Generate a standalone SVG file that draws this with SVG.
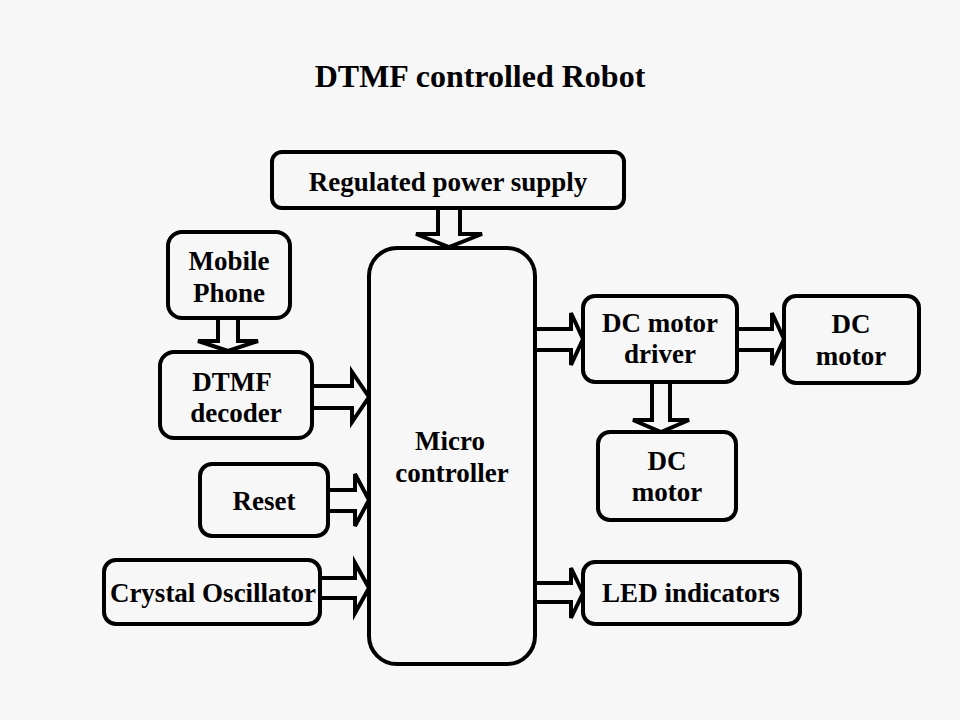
<svg xmlns="http://www.w3.org/2000/svg" width="960" height="720" viewBox="0 0 960 720">
<style>
.box{fill:#f7f7f7;stroke:#000;stroke-width:4}
.arr{fill:#f7f7f7;stroke:#000;stroke-width:4;stroke-linejoin:miter}
text{font-family:"Liberation Serif","Times New Roman",serif;font-weight:bold;font-size:27px;fill:#000;text-anchor:middle}
.title{font-size:32px}
</style>
<rect width="960" height="720" fill="#f7f7f7"/>
<text class="title" x="480" y="87">DTMF controlled Robot</text>
<g id="connectors">
<path class="arr" d="M438,208 V234 H416 L449,247 L482,234 H460 V208"/>
<path class="arr" d="M218,318 V341 H198 L228,351 L258,341 H238 V318"/>
<path class="arr" d="M312,386 H352 V372 L369,397 L352,422 V408 H312"/>
<path class="arr" d="M328,490 H355 V474 L369,500 L355,526 V511 H328"/>
<path class="arr" d="M320,578 H355 V563 L369,588 L355,613 V598 H320"/>
<path class="arr" d="M535,329 H571 V313 L583,339 L571,365 V350 H535"/>
<path class="arr" d="M737,329 H772 V313 L784,339 L772,365 V350 H737"/>
<path class="arr" d="M652,382 V420 H633 L661,432 L689,420 H670 V382"/>
<path class="arr" d="M535,583 H571 V568 L583,593 L571,618 V602 H535"/>
</g>
<g id="power"><rect class="box" x="272" y="152" width="352" height="56" rx="10"/><text x="448" y="191">Regulated power supply</text></g>
<g id="mobile"><rect class="box" x="168" y="232" width="122" height="86" rx="14"/><text x="229" y="270">Mobile</text><text x="229" y="302">Phone</text></g>
<g id="dtmf"><rect class="box" x="160" y="352" width="152" height="86" rx="14"/><text x="232" y="391">DTMF</text><text x="236" y="422">decoder</text></g>
<g id="mcu"><rect class="box" x="369" y="248" width="166" height="416" rx="28"/><text x="450" y="450">Micro</text><text x="452" y="482">controller</text></g>
<g id="reset"><rect class="box" x="200" y="464" width="128" height="72" rx="12"/><text x="264" y="510">Reset</text></g>
<g id="crystal"><rect class="box" x="104" y="560" width="216" height="64" rx="12"/><text x="213" y="602">Crystal Oscillator</text></g>
<g id="driver"><rect class="box" x="583" y="296" width="154" height="86" rx="12"/><text x="660" y="332">DC motor</text><text x="660" y="363">driver</text></g>
<g id="motor1"><rect class="box" x="784" y="296" width="135" height="87" rx="12"/><text x="851" y="333">DC</text><text x="851" y="365">motor</text></g>
<g id="motor2"><rect class="box" x="598" y="432" width="138" height="88" rx="12"/><text x="667" y="470">DC</text><text x="667" y="501">motor</text></g>
<g id="led"><rect class="box" x="583" y="562" width="217" height="62" rx="12"/><text x="691" y="602">LED indicators</text></g>
</svg>
